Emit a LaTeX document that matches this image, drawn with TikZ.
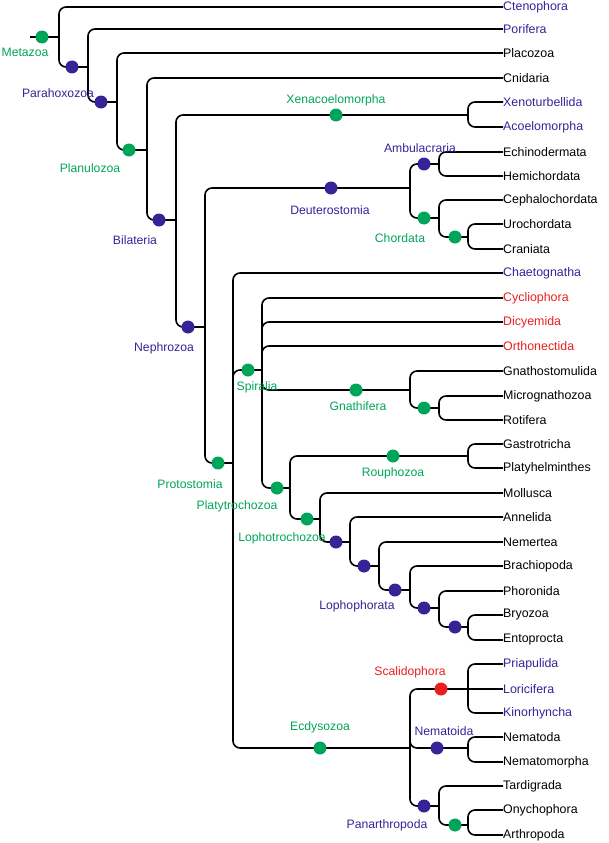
\documentclass[tikz,border=0pt]{standalone}
\usepackage{fontspec}
\setmainfont{Liberation Sans}
\definecolor{cb}{RGB}{52,36,150}
\definecolor{cg}{RGB}{0,165,90}
\definecolor{cr}{RGB}{235,30,30}
\tikzset{x=1pt,y=-1pt,
  br/.style={line width=1.6pt,rounded corners=7pt},
  leaf/.style={anchor=west,font=\fontsize{12.4}{14}\selectfont,inner sep=0pt,xshift=6pt},
  dg/.style={circle,fill=cg,minimum size=13pt,inner sep=0pt},
  db/.style={circle,fill=cb,minimum size=13pt,inner sep=0pt},
  dr/.style={circle,fill=cr,minimum size=13pt,inner sep=0pt},
  lab/.style={font=\fontsize{12.2}{14}\selectfont,inner sep=0pt}}
\newcommand\br[2]{\draw[br] (#1) |- (#2);}
\begin{document}
\begin{tikzpicture}
\useasboundingbox (0,0) rectangle (608,843);
% leaves
\foreach \n/\y/\c in {Ctenophora/7/cb,Porifera/29/cb,Placozoa/53/black,Cnidaria/78/black,
 Xenoturbellida/102/cb,Acoelomorpha/127/cb,Echinodermata/152/black,Hemichordata/176/black,
 Cephalochordata/200/black,Urochordata/224/black,Craniata/249/black,Chaetognatha/273/cb,
 Cycliophora/298/cr,Dicyemida/322/cr,Orthonectida/346/cr,Gnathostomulida/371/black,
 Micrognathozoa/396/black,Rotifera/420/black,Gastrotricha/444/black,Platyhelminthes/468/black,
 Mollusca/493/black,Annelida/517/black,Nemertea/542/black,Brachiopoda/566/black,
 Phoronida/591/black,Bryozoa/615/black,Entoprocta/640/black,Priapulida/664/cb,
 Loricifera/689/cb,Kinorhyncha/713/cb,Nematoda/737/black,Nematomorpha/762/black,
 Tardigrada/786/black,Onychophora/810/black,Arthropoda/835/black}
  \node[leaf,text=\c] (\n) at (497,\y) {\n};
% internal junctions
\coordinate (root) at (30,37);
\coordinate (met) at (59,37);
\coordinate (a1) at (88,67);
\coordinate (phx) at (117,102);
\coordinate (pln) at (147,150);
\coordinate (bil) at (176,220);
\coordinate (xen) at (468,115);
\coordinate (nep) at (205,327);
\coordinate (deu) at (410,188);
\coordinate (amb) at (439,164);
\coordinate (cho) at (439,218);
\coordinate (n1) at (468,237);
\coordinate (pro) at (233,463);
\coordinate (spi) at (262,370);
\coordinate (gna) at (410,390);
\coordinate (n2) at (439,408);
\coordinate (pla) at (290,488);
\coordinate (rou) at (468,456);
\coordinate (lph) at (320,519);
\coordinate (n3) at (350,542);
\coordinate (n4) at (379,566);
\coordinate (lop) at (410,590);
\coordinate (n5) at (439,608);
\coordinate (n6) at (468,627);
\coordinate (ecd) at (410,748);
\coordinate (sca) at (468,689);
\coordinate (nem) at (468,748);
\coordinate (pan) at (439,806);
\coordinate (n7) at (468,825);
% branches
\draw[br] (root) -- (met);
\br{met}{Ctenophora.west}\br{met}{a1}
\br{a1}{Porifera.west}\br{a1}{phx}
\br{phx}{Placozoa.west}\br{phx}{pln}
\br{pln}{Cnidaria.west}\br{pln}{bil}
\br{bil}{xen}\br{bil}{nep}
\br{xen}{Xenoturbellida.west}\br{xen}{Acoelomorpha.west}
\br{nep}{deu}\br{nep}{pro}
\br{deu}{amb}\br{deu}{cho}
\br{amb}{Echinodermata.west}\br{amb}{Hemichordata.west}
\br{cho}{Cephalochordata.west}\br{cho}{n1}
\br{n1}{Urochordata.west}\br{n1}{Craniata.west}
\br{pro}{Chaetognatha.west}\br{pro}{spi}\br{pro}{ecd}
\br{spi}{Cycliophora.west}\br{spi}{Dicyemida.west}\br{spi}{Orthonectida.west}
\br{spi}{gna}\br{spi}{pla}
\br{gna}{Gnathostomulida.west}\br{gna}{n2}
\br{n2}{Micrognathozoa.west}\br{n2}{Rotifera.west}
\br{pla}{rou}\br{pla}{lph}
\br{rou}{Gastrotricha.west}\br{rou}{Platyhelminthes.west}
\br{lph}{Mollusca.west}\br{lph}{n3}
\br{n3}{Annelida.west}\br{n3}{n4}
\br{n4}{Nemertea.west}\br{n4}{lop}
\br{lop}{Brachiopoda.west}\br{lop}{n5}
\br{n5}{Phoronida.west}\br{n5}{n6}
\br{n6}{Bryozoa.west}\br{n6}{Entoprocta.west}
\br{ecd}{sca}\br{ecd}{nem}\br{ecd}{pan}
\br{sca}{Priapulida.west}\draw[br] (sca) -- (Loricifera.west);\br{sca}{Kinorhyncha.west}
\br{nem}{Nematoda.west}\br{nem}{Nematomorpha.west}
\br{pan}{Tardigrada.west}\br{pan}{n7}
\br{n7}{Onychophora.west}\br{n7}{Arthropoda.west}
% clade dots
\node[dg] (dMet) at (42,37) {};
\node[db] (dA1) at (72,67) {};
\node[db] (dPhx) at (101,102) {};
\node[dg] (dPln) at (129,150) {};
\node[db] (dBil) at (159,220) {};
\node[dg] (dXen) at (336,115) {};
\node[db] (dNep) at (188,327) {};
\node[db] (dDeu) at (331,188) {};
\node[db] (dAmb) at (424,164) {};
\node[dg] (dCho) at (424,218) {};
\node[dg] (dN1) at (455,237) {};
\node[dg] (dPro) at (218,463) {};
\node[dg] (dSpi) at (248,370) {};
\node[dg] (dGna) at (356,390) {};
\node[dg] (dN2) at (424,408) {};
\node[dg] (dPla) at (277,488) {};
\node[dg] (dRou) at (393,456) {};
\node[dg] (dLph) at (307,519) {};
\node[db] (dN3) at (336,542) {};
\node[db] (dN4) at (364,566) {};
\node[db] (dLop) at (395,590) {};
\node[db] (dN5) at (424,608) {};
\node[db] (dN6) at (455,627) {};
\node[dg] (dEcd) at (320,748) {};
\node[dr] (dSca) at (441,689) {};
\node[db] (dNem) at (437,748) {};
\node[db] (dPan) at (424,806) {};
\node[dg] (dN7) at (455,825) {};
% clade labels
\node[lab,text=cg] (lMet) at (25,52) {Metazoa};
\node[lab,text=cb] (lPhx) at (58,93) {Parahoxozoa};
\node[lab,text=cg] (lPln) at (90,168) {Planulozoa};
\node[lab,text=cb] (lBil) at (135,240) {Bilateria};
\node[lab,text=cg] (lXen) at (336,100) {Xenacoelomorpha};
\node[lab,text=cb] (lNep) at (164,348) {Nephrozoa};
\node[lab,text=cb] (lDeu) at (330,210) {Deuterostomia};
\node[lab,text=cb] (lAmb) at (420,148) {Ambulacraria};
\node[lab,text=cg] (lCho) at (400,238) {Chordata};
\node[lab,text=cg] (lPro) at (190,484) {Protostomia};
\node[lab,text=cg] (lSpi) at (257,387) {Spiralia};
\node[lab,text=cg] (lGna) at (358,406) {Gnathifera};
\node[lab,text=cg] (lRou) at (393,473) {Rouphozoa};
\node[lab,text=cg] (lPla) at (237,506) {Platytrochozoa};
\node[lab,text=cg] (lLph) at (282,538) {Lophotrochozoa};
\node[lab,text=cb] (lLop) at (357,606) {Lophophorata};
\node[lab,text=cr] (lSca) at (410,672) {Scalidophora};
\node[lab,text=cg] (lEcd) at (320,727) {Ecdysozoa};
\node[lab,text=cb] (lNem) at (444,731) {Nematoida};
\node[lab,text=cb] (lPan) at (387,825) {Panarthropoda};
\end{tikzpicture}
\end{document}
